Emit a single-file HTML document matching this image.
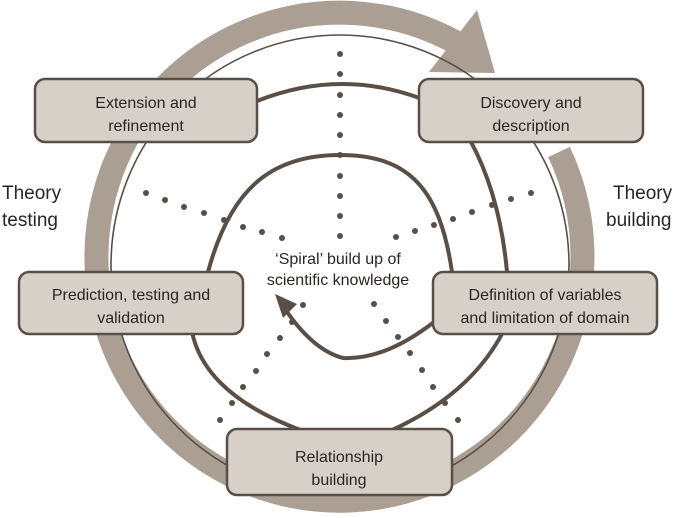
<!DOCTYPE html>
<html><head><meta charset="utf-8"><style>
body{margin:0;background:#fff;width:685px;height:513px;overflow:hidden}
text{font-family:"Liberation Sans",sans-serif;fill:#2a2522}
</style></head><body>
<svg width="685" height="513" viewBox="0 0 685 513">
<path d="M559 152 A243 244 0 1 1 455 42" fill="none" stroke="#ab9f93" stroke-width="24"/>
<polygon points="477,10 495,73 429,72" fill="#ab9f93"/>
<ellipse cx="340" cy="265" rx="229" ry="230" fill="none" stroke="#5a4f46" stroke-width="1.6"/>
<g fill="#5a4f46">
<circle cx="340" cy="54" r="3"/><circle cx="340" cy="74" r="3"/><circle cx="340" cy="95" r="3"/><circle cx="340" cy="115" r="3"/><circle cx="340" cy="135" r="3"/><circle cx="340" cy="155" r="3"/><circle cx="340" cy="176" r="3"/><circle cx="340" cy="196" r="3"/><circle cx="340" cy="216" r="3"/><circle cx="340" cy="236" r="3"/>
<circle cx="146" cy="193" r="3"/><circle cx="165" cy="200" r="3"/><circle cx="184" cy="207" r="3"/><circle cx="204" cy="213" r="3"/><circle cx="224" cy="220" r="3"/><circle cx="243" cy="227" r="3"/><circle cx="262" cy="232" r="3"/><circle cx="282" cy="238" r="3"/>
<circle cx="531" cy="193" r="3"/><circle cx="511" cy="199" r="3"/><circle cx="492" cy="205" r="3"/><circle cx="472" cy="212" r="3"/><circle cx="453" cy="219" r="3"/><circle cx="434" cy="225" r="3"/><circle cx="415" cy="231" r="3"/><circle cx="396" cy="237" r="3"/>
<circle cx="303" cy="305" r="3"/><circle cx="292" cy="322" r="3"/><circle cx="280" cy="338" r="3"/><circle cx="267" cy="354" r="3"/><circle cx="256" cy="371" r="3"/><circle cx="243" cy="387" r="3"/><circle cx="232" cy="403" r="3"/><circle cx="220" cy="420" r="3"/>
<circle cx="374" cy="304" r="3"/><circle cx="386" cy="321" r="3"/><circle cx="398" cy="337" r="3"/><circle cx="410" cy="353" r="3"/><circle cx="422" cy="370" r="3"/><circle cx="433" cy="387" r="3"/><circle cx="445" cy="403" r="3"/><circle cx="458" cy="420" r="3"/>
</g>
<g fill="none" stroke="#5a4f46" stroke-width="4" stroke-linecap="round">
<path d="M257 101 Q340 68 422 99"/>
<path d="M470 140 Q500 195 507 272"/>
<path d="M503 332 Q470 395 390 431"/>
<path d="M303 431 Q205 395 192 332"/>
<path d="M208 272 C230 190 270 155 340 155 C410 155 440 190 452 272"/>
<path d="M434 322 Q385 360 343 358 Q312 350 283 306"/>
</g>
<polygon points="275,294 297,304 283,318" fill="#5a4f46"/>
<g fill="#d6d0c8" stroke="#5a4f46" stroke-width="2.5">
<rect x="35" y="79" width="222" height="63" rx="10"/>
<rect x="419" y="79" width="224" height="63" rx="10"/>
<rect x="19" y="272" width="224" height="62" rx="10"/>
<rect x="433" y="272" width="224" height="62" rx="10"/>
<rect x="227" y="429" width="225" height="66" rx="10"/>
</g>
<g font-size="16" text-anchor="middle">
<text x="146" y="108">Extension and</text><text x="146" y="131">refinement</text>
<text x="531" y="108">Discovery and</text><text x="531" y="131">description</text>
<text x="131" y="300">Prediction, testing and</text><text x="131" y="323">validation</text>
<text x="545" y="300">Definition of variables</text><text x="545" y="323">and limitation of domain</text>
<text x="339" y="462">Relationship</text><text x="339" y="485">building</text>
<text x="338" y="264">‘Spiral’ build up of</text><text x="338" y="285">scientific knowledge</text>
</g>
<g font-size="19">
<text x="2" y="199">Theory</text><text x="2" y="226">testing</text>
<text x="613" y="199">Theory</text><text x="606" y="226">building</text>
</g>
</svg>
</body></html>
